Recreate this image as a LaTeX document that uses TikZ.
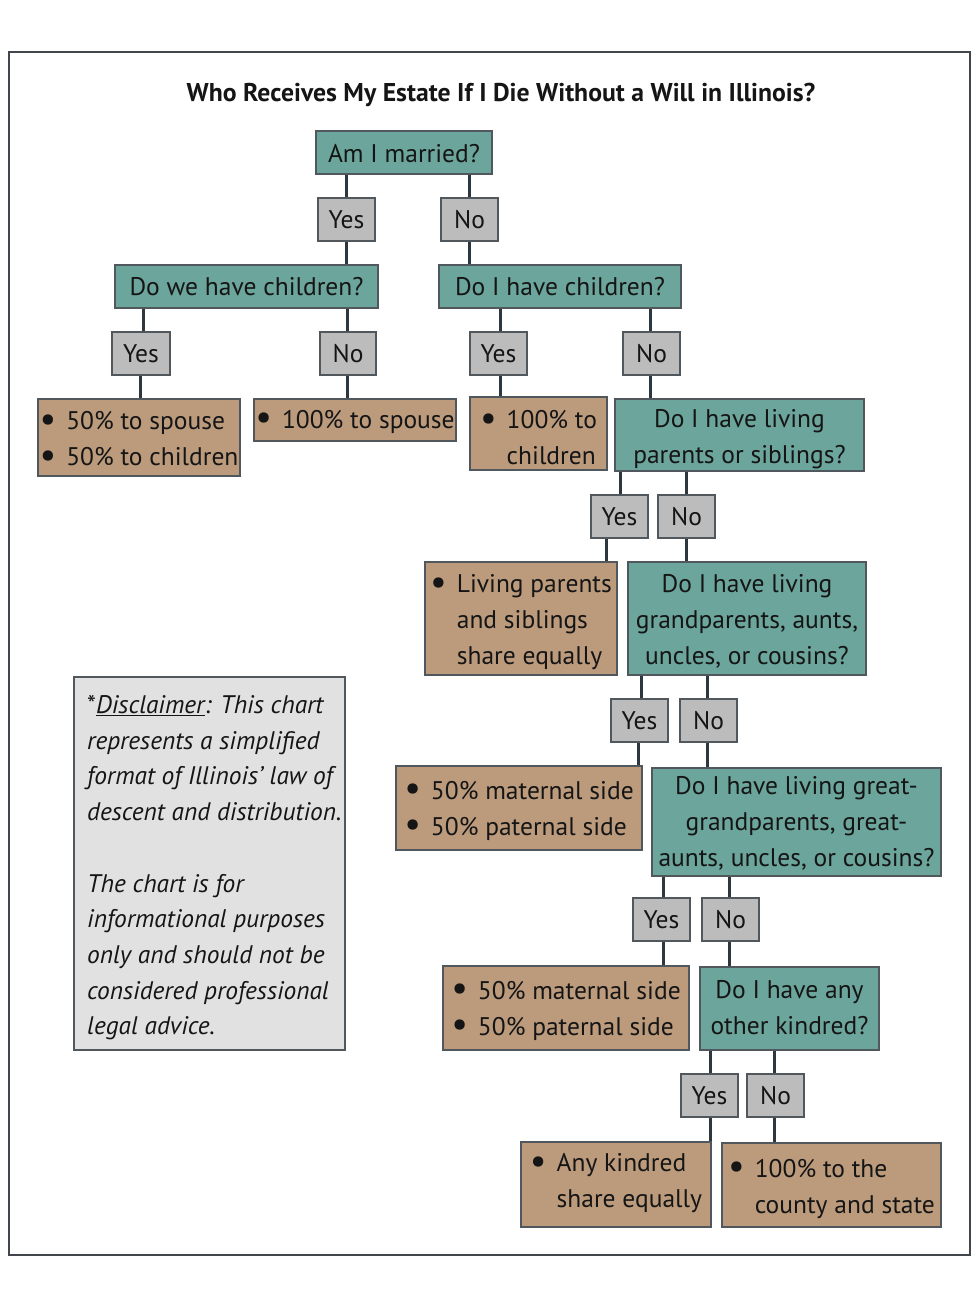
\documentclass[tikz,border=0pt]{standalone}
\usepackage{fontspec}
\usepackage{graphicx}
\setmainfont{PT Sans}
\definecolor{cTeal}{HTML}{6BA59B}
\definecolor{cTan}{HTML}{BC9B7D}
\definecolor{cGray}{HTML}{BCBCBC}
\definecolor{cNote}{HTML}{E1E1E1}
\definecolor{cEdge}{HTML}{50585E}
\definecolor{cLine}{HTML}{2D3740}
\definecolor{cText}{HTML}{151515}
\newcommand{\bl}{\raisebox{-0.06em}{\scalebox{1.45}{\textbullet}}}
% centred lines, shifted down by #1 pt
\newcommand{\tb}[2]{\raisebox{-#1pt}[\height][\depth]{\begin{tabular}{@{}c@{}}#2\end{tabular}}}
% bullet list, shifted down by #1 pt
\newcommand{\bb}[2]{\raisebox{-#1pt}[\height][\depth]{\begin{tabular}{@{}l@{\hspace{10pt}}l@{}}#2\end{tabular}}}
\tikzset{
  base/.style={draw=cEdge, line width=2pt, inner sep=0pt, text=cText,
    font=\fontsize{25.5}{36}\selectfont},
  qbox/.style={base, fill=cTeal},
  abox/.style={base, fill=cTan},
  lbl/.style={base, fill=cGray, minimum width=57pt, minimum height=43pt},
  conn/.style={draw=cLine, line width=3pt},
}
\begin{document}
\begin{tikzpicture}[x=1pt,y=-1pt]
\useasboundingbox (0,0) rectangle (980,1307);
\draw[draw=cEdge!80!black, line width=2pt] (9,52) rectangle (970,1255);
\node[text=cText, font=\bfseries\fontsize{25.7}{30}\selectfont] (title) at (501,94.5) {Who Receives My Estate If I Die Without a Will in Illinois?};

% level 1
\node[qbox, minimum width=176pt, minimum height=43pt] (married) at (404,152.5) {\tb{2.5}{Am I married?}};
\node[lbl] (y1) at (346.5,219.5) {Yes};
\node[lbl] (n1) at (469.5,219.5) {No};
\node[qbox, minimum width=263pt, minimum height=43pt] (wekids) at (246.5,286.5) {\tb{1.5}{Do we have children?}};
\node[qbox, minimum width=242pt, minimum height=43pt] (ikids) at (560,286.5) {\tb{1.5}{Do I have children?}};

% level 2
\node[lbl, minimum width=58pt] (y2) at (141,353.5) {Yes};
\node[lbl, minimum width=56pt] (n2) at (348,353.5) {No};
\node[lbl] (y3) at (498.5,353.5) {Yes};
\node[lbl] (n3) at (651.5,353.5) {No};

\node[abox, minimum width=202pt, minimum height=77pt] (sc) at (139,437.5) {\bb{3}{\bl & 50\% to spouse\\ \bl & 50\% to children}};
\node[abox, minimum width=202pt, minimum height=42pt] (sp) at (355,420) {\bb{1}{\bl & 100\% to spouse}};
\node[abox, minimum width=137pt, minimum height=73pt] (ch) at (538.5,433.5) {\bb{6}{\bl & 100\% to\\ & children}};
\node[qbox, minimum width=249pt, minimum height=71pt] (parsib) at (739.5,434.5) {\tb{3.5}{Do I have living\\parents or siblings?}};

% level 3
\node[lbl] (y4) at (619.5,516.5) {Yes};
\node[lbl] (n4) at (686.5,516.5) {No};
\node[abox, minimum width=192pt, minimum height=113pt] (livpar) at (521,618.5) {\bb{3}{\bl & Living parents\\ & and siblings\\ & share equally}};
\node[qbox, minimum width=238pt, minimum height=113pt] (grand) at (747,618.5) {\tb{3}{Do I have living\\grandparents, aunts,\\uncles, or cousins?}};

% level 4
\node[lbl] (y5) at (639.5,720.5) {Yes};
\node[lbl] (n5) at (708.5,720.5) {No};
\node[abox, minimum width=246pt, minimum height=84pt] (mp1) at (519,808) {\bb{2}{\bl & 50\% maternal side\\ \bl & 50\% paternal side}};
\node[qbox, minimum width=289pt, minimum height=107pt] (ggrand) at (796.5,821.5) {\tb{1.5}{Do I have living great-\\grandparents, great-\\aunts, uncles, or cousins?}};

% level 5
\node[lbl] (y6) at (661.5,919.5) {Yes};
\node[lbl] (n6) at (730.5,919.5) {No};
\node[abox, minimum width=246pt, minimum height=84pt] (mp2) at (566,1008) {\bb{2}{\bl & 50\% maternal side\\ \bl & 50\% paternal side}};
\node[qbox, minimum width=179pt, minimum height=83pt] (kin) at (789.5,1008.5) {\tb{0.5}{Do I have any\\other kindred?}};

% level 6
\node[lbl] (y7) at (709.5,1095.5) {Yes};
\node[lbl] (n7) at (775.5,1095.5) {No};
\node[abox, minimum width=190pt, minimum height=85pt] (anykin) at (616,1184.5) {\bb{-2}{\bl & Any kindred\\ & share equally}};
\node[abox, minimum width=219pt, minimum height=84pt] (county) at (831.5,1185) {\bb{3}{\bl & 100\% to the\\ & county and state}};

% disclaimer
\node[base, fill=cNote, minimum width=271pt, minimum height=373pt] (note) at (209.5,863.5) {};
\node[inner sep=0pt, anchor=base west, text=cText, font=\itshape\fontsize{25.4}{35.7}\selectfont] (notetext) at (87,713.5) {\begin{tabular}[t]{@{}l@{}}{\upshape*}\underline{Disclaimer}: This chart\\represents a simplified\\format of Illinois’ law of\\descent and distribution.\\ \\The chart is for\\informational purposes\\only and should not be\\considered professional\\legal advice.\end{tabular}};

% connectors
\newcommand{\up}[3]{\draw[conn] ([xshift=#3pt]#1.north) -- ([xshift=#3pt]#1.north |- #2.south);}
\newcommand{\dn}[3]{\draw[conn] ([xshift=#3pt]#1.south) -- ([xshift=#3pt]#1.south |- #2.north);}
\up{y1}{married}{0} \dn{y1}{wekids}{0}
\up{n1}{married}{0} \dn{n1}{ikids}{0}
\up{y2}{wekids}{2} \dn{y2}{sc}{-1}
\up{n2}{wekids}{-1} \dn{n2}{sp}{-1}
\up{y3}{ikids}{1.5} \dn{y3}{ch}{1.5}
\up{n3}{ikids}{-1.5} \dn{n3}{parsib}{-1.5}
\up{y4}{parsib}{0.5} \dn{y4}{livpar}{-13.5}
\up{n4}{parsib}{-0.5} \dn{n4}{grand}{-0.5}
\up{y5}{grand}{1.5} \dn{y5}{mp1}{-1.5}
\up{n5}{grand}{-1.5} \dn{n5}{ggrand}{-1}
\up{y6}{ggrand}{1.5} \dn{y6}{mp2}{1.5}
\up{n6}{ggrand}{-1.5} \dn{n6}{kin}{-1.5}
\up{y7}{kin}{0.5} \dn{y7}{anykin}{0.5}
\up{n7}{kin}{-1.5} \dn{n7}{county}{-1.5}
\end{tikzpicture}
\end{document}
